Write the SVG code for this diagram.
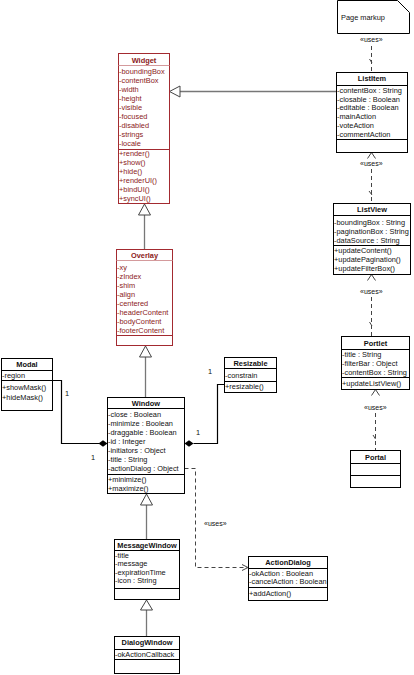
<svg xmlns="http://www.w3.org/2000/svg" width="414" height="675" viewBox="0 0 414 675">
<style>
text{font-family:"Liberation Sans",Arial,sans-serif;font-size:7.4px;fill:#111}
.h{font-weight:bold;text-anchor:middle}
.box{fill:#fff;stroke:#000;stroke-width:1}
.ln{stroke:#000;stroke-width:1}
.red .box{stroke:#a32a30}
.red .ln{stroke:#a32a30}
.red .hl{stroke:#d49a9c}
.red text{fill:#8b1a1a}
.gen{fill:none;stroke:#777;stroke-width:1.3}
.tri{fill:#fff;stroke:#444;stroke-width:1}
.comp{fill:none;stroke:#000;stroke-width:1.2}
.dia{fill:#000}
.dep{fill:none;stroke:#444;stroke-width:1;stroke-dasharray:4,3}
.arr{fill:none;stroke:#444;stroke-width:1}
.lbl{font-size:7px}
</style>
<rect width="414" height="675" fill="#fff"/>

<g id="connectors">
  <!-- ListItem -> Widget generalization -->
  <line class="gen" x1="336" y1="91.5" x2="180" y2="91.5"/>
  <polygon class="tri" points="169.5,91.5 180,86 180,97"/>
  <!-- Overlay -> Widget -->
  <line class="gen" x1="144.5" y1="249" x2="144.5" y2="215"/>
  <polygon class="tri" points="144.5,204 138.5,215 150.5,215"/>
  <!-- Window -> Overlay -->
  <line class="gen" x1="145.5" y1="397" x2="145.5" y2="357"/>
  <polygon class="tri" points="145.5,346 139.5,357 151.5,357"/>
  <!-- MessageWindow -> Window -->
  <line class="gen" x1="146.5" y1="539" x2="146.5" y2="505"/>
  <polygon class="tri" points="146.5,494 140.5,505 152.5,505"/>
  <!-- DialogWindow -> MessageWindow -->
  <line class="gen" x1="146.5" y1="636" x2="146.5" y2="610"/>
  <polygon class="tri" points="146.5,600 140.5,610 152.5,610"/>
  <!-- Modal composition -->
  <polyline class="comp" points="52.5,380.5 61.5,380.5 61.5,443.5 99,443.5"/>
  <polygon class="dia" points="107.5,443.5 103,440.3 98.5,443.5 103,446.7"/>
  <text x="65" y="396">1</text>
  <text x="91" y="460">1</text>
  <!-- Resizable composition -->
  <polyline class="comp" points="224.5,384.5 217.5,384.5 217.5,443.5 193.5,443.5"/>
  <polygon class="dia" points="184.5,443.5 189,440.3 193.5,443.5 189,446.7"/>
  <text x="196" y="435">1</text>
  <text x="208" y="374">1</text>
  <!-- Window uses ActionDialog -->
  <path class="dep" d="M184.5,468.5 H195.5 V567.5 H247"/>
  <polyline class="arr" points="242,564.5 248,567.5 242,570.5"/>
  <text class="lbl" x="204" y="526">«uses»</text>
  <!-- Page markup uses ListItem -->
  <text class="lbl" x="360" y="42">«uses»</text>
  <path class="dep" d="M371.5,46 V72"/>
  <path class="arr" d="M369.5,59 L372,63"/>
  <!-- ListView uses ListItem -->
  <polyline class="arr" points="367.5,158.5 371.5,152.5 375.5,158.5"/>
  <text class="lbl" x="360" y="166">«uses»</text>
  <path class="dep" d="M371.5,169 V203"/>
  <path class="arr" d="M369,191 L372,195"/>
  <!-- Portlet uses ListView -->
  <polyline class="arr" points="367.5,280.5 371.5,274.5 375.5,280.5"/>
  <text class="lbl" x="360" y="293.5">«uses»</text>
  <path class="dep" d="M371.5,297 V336"/>
  <path class="arr" d="M369.5,322 L372,326"/>
  <!-- Portal uses Portlet -->
  <polyline class="arr" points="371.5,395.5 375.5,389.5 379.5,395.5"/>
  <text class="lbl" x="364" y="409.5">«uses»</text>
  <path class="dep" d="M375.5,413 V450"/>
  <path class="arr" d="M373,435 L375.5,439"/>
</g>

<g id="page-markup">
  <path class="box" d="M337.5,0.5 H397.5 L409.5,12.5 V33.5 H337.5 Z"/>
  <text x="341" y="20">Page markup</text>
</g>

<g id="listitem">
  <rect class="box" x="336.5" y="72.5" width="71" height="80"/>
  <text class="h" x="372" y="81">ListItem</text>
  <line class="ln" x1="336.5" y1="85.5" x2="407.5" y2="85.5"/>
  <text x="337" y="92.7">-contentBox : String</text>
  <text x="337" y="101.5">-closable : Boolean</text>
  <text x="337" y="110.3">-editable : Boolean</text>
  <text x="337" y="119.1">-mainAction</text>
  <text x="337" y="127.9">-voteAction</text>
  <text x="337" y="136.7">-commentAction</text>
  <line class="ln" x1="336.5" y1="139.5" x2="407.5" y2="139.5"/>
</g>

<g id="listview">
  <rect class="box" x="333.5" y="203.5" width="77" height="71"/>
  <text class="h" x="372" y="212">ListView</text>
  <line class="ln" x1="333.5" y1="215.5" x2="410.5" y2="215.5"/>
  <text x="334" y="224.5">-boundingBox : String</text>
  <text x="334" y="233.5">-paginationBox : String</text>
  <text x="334" y="242.5">-dataSource : String</text>
  <line class="ln" x1="333.5" y1="245.5" x2="410.5" y2="245.5"/>
  <text x="334" y="252.8">+updateContent()</text>
  <text x="334" y="261.8">+updatePagination()</text>
  <text x="334" y="270.8">+updateFilterBox()</text>
</g>

<g id="portlet">
  <rect class="box" x="341.5" y="336.5" width="68" height="53"/>
  <text class="h" x="375.5" y="345.5">Portlet</text>
  <line class="ln" x1="341.5" y1="349.5" x2="409.5" y2="349.5"/>
  <text x="342" y="356.5">-title : String</text>
  <text x="342" y="365.5">-filterBar : Object</text>
  <text x="342" y="374.5">-contentBox : String</text>
  <line class="ln" x1="341.5" y1="377.5" x2="409.5" y2="377.5"/>
  <text x="342" y="385.5">+updateListView()</text>
</g>

<g id="portal">
  <rect class="box" x="350.5" y="450.5" width="50" height="37"/>
  <text class="h" x="375.5" y="459.5">Portal</text>
  <line class="ln" x1="350.5" y1="463.5" x2="400.5" y2="463.5"/>
  <line class="ln" x1="350.5" y1="475.5" x2="400.5" y2="475.5"/>
</g>

<g id="widget" class="red">
  <rect class="box" x="118.5" y="53.5" width="51" height="150"/>
  <text class="h" x="144" y="62.5">Widget</text>
  <line class="hl" x1="118.5" y1="65.5" x2="169.5" y2="65.5"/>
  <text x="119" y="73.7">-boundingBox</text>
  <text x="119" y="82.7">-contentBox</text>
  <text x="119" y="91.7">-width</text>
  <text x="119" y="100.7">-height</text>
  <text x="119" y="109.7">-visible</text>
  <text x="119" y="118.7">-focused</text>
  <text x="119" y="127.7">-disabled</text>
  <text x="119" y="136.7">-strings</text>
  <text x="119" y="145.7">-locale</text>
  <line class="ln" x1="118.5" y1="149.5" x2="169.5" y2="149.5"/>
  <text x="119" y="155.7">+render()</text>
  <text x="119" y="164.7">+show()</text>
  <text x="119" y="173.7">+hide()</text>
  <text x="119" y="182.7">+renderUI()</text>
  <text x="119" y="191.7">+bindUI()</text>
  <text x="119" y="200.7">+syncUI()</text>
</g>

<g id="overlay" class="red">
  <rect class="box" x="116.5" y="249.5" width="56" height="96"/>
  <text class="h" x="144.5" y="258">Overlay</text>
  <line class="hl" x1="116.5" y1="260.5" x2="172.5" y2="260.5"/>
  <text x="117" y="269.7">-xy</text>
  <text x="117" y="278.7">-zIndex</text>
  <text x="117" y="287.7">-shim</text>
  <text x="117" y="296.7">-align</text>
  <text x="117" y="305.7">-centered</text>
  <text x="117" y="314.7">-headerContent</text>
  <text x="117" y="323.7">-bodyContent</text>
  <text x="117" y="332.7">-footerContent</text>
  <line class="ln" x1="116.5" y1="335.5" x2="172.5" y2="335.5"/>
</g>

<g id="modal">
  <rect class="box" x="1.5" y="358.5" width="51" height="52"/>
  <text class="h" x="27" y="366.5">Modal</text>
  <line class="ln" x1="1.5" y1="370.5" x2="52.5" y2="370.5"/>
  <text x="2" y="377.7">-region</text>
  <line class="ln" x1="1.5" y1="380.5" x2="52.5" y2="380.5"/>
  <text x="2" y="389.5">+showMask()</text>
  <text x="2" y="400">+hideMask()</text>
</g>

<g id="resizable">
  <rect class="box" x="224.5" y="357.5" width="52" height="35"/>
  <text class="h" x="250.5" y="365.5">Resizable</text>
  <line class="ln" x1="224.5" y1="368.5" x2="276.5" y2="368.5"/>
  <text x="225" y="377.5">-constrain</text>
  <line class="ln" x1="224.5" y1="381.5" x2="276.5" y2="381.5"/>
  <text x="225" y="389">+resizable()</text>
</g>

<g id="window">
  <rect class="box" x="107.5" y="397.5" width="77" height="96"/>
  <text class="h" x="146" y="405.5">Window</text>
  <line class="ln" x1="107.5" y1="408.5" x2="184.5" y2="408.5"/>
  <text x="108" y="416.7">-close : Boolean</text>
  <text x="108" y="425.7">-minimize : Boolean</text>
  <text x="108" y="434.7">-draggable : Boolean</text>
  <text x="108" y="443.7">-id : Integer</text>
  <text x="108" y="452.7">-initiators : Object</text>
  <text x="108" y="461.7">-title : String</text>
  <text x="108" y="470.7">-actionDialog : Object</text>
  <line class="ln" x1="107.5" y1="474.5" x2="184.5" y2="474.5"/>
  <text x="108" y="481.7">+minimize()</text>
  <text x="108" y="490.7">+maximize()</text>
</g>

<g id="messagewindow">
  <rect class="box" x="114.5" y="539.5" width="65" height="60"/>
  <text class="h" x="147" y="547.5">MessageWindow</text>
  <line class="ln" x1="114.5" y1="550.5" x2="179.5" y2="550.5"/>
  <text x="115" y="557.8">-title</text>
  <text x="115" y="566.3">-message</text>
  <text x="115" y="574.8">-expirationTime</text>
  <text x="115" y="583.3">-icon : String</text>
  <line class="ln" x1="114.5" y1="588.5" x2="179.5" y2="588.5"/>
</g>

<g id="dialogwindow">
  <rect class="box" x="114.5" y="636.5" width="65" height="37"/>
  <text class="h" x="147" y="645">DialogWindow</text>
  <line class="ln" x1="114.5" y1="649.5" x2="179.5" y2="649.5"/>
  <text x="115" y="657">-okActionCallback</text>
  <line class="ln" x1="114.5" y1="659.5" x2="179.5" y2="659.5"/>
</g>

<g id="actiondialog">
  <rect class="box" x="248.5" y="556.5" width="79" height="44"/>
  <text class="h" x="288" y="565">ActionDialog</text>
  <line class="ln" x1="248.5" y1="568.5" x2="327.5" y2="568.5"/>
  <text x="249" y="576">-okAction : Boolean</text>
  <text x="249" y="584">-cancelAction : Boolean</text>
  <line class="ln" x1="248.5" y1="587.5" x2="327.5" y2="587.5"/>
  <text x="249" y="595.5">+addAction()</text>
</g>
</svg>
